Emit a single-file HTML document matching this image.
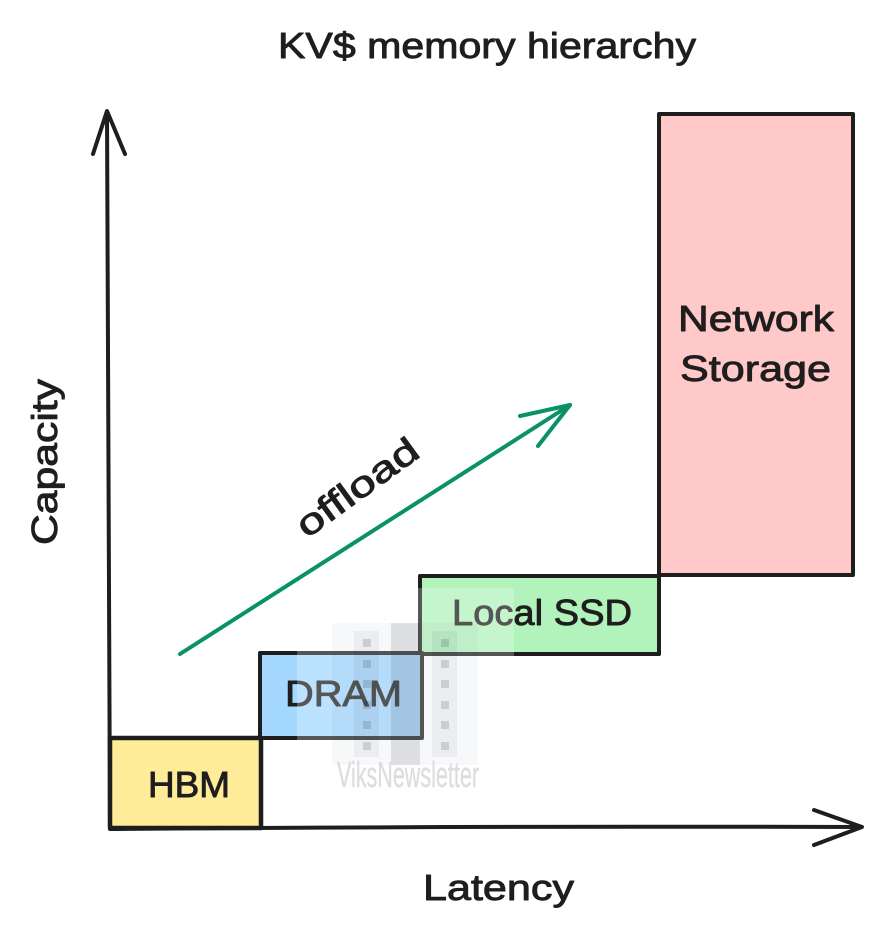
<!DOCTYPE html>
<html>
<head>
<meta charset="utf-8">
<style>
html,body{margin:0;padding:0;background:#fff;width:881px;height:932px;overflow:hidden}
svg{display:block}
text{font-family:"Liberation Sans","DejaVu Sans",sans-serif;fill:#1e1e1e;font-size:36px;stroke:#1e1e1e;stroke-width:.9;stroke-linejoin:round}
.wm{mix-blend-mode:multiply}
</style>
</head>
<body>
<svg width="881" height="932" viewBox="0 0 881 932" xmlns="http://www.w3.org/2000/svg">
<rect width="881" height="932" fill="#fff"/>
<g fill="none" stroke="#1e1e1e" stroke-width="4" stroke-linecap="round" stroke-linejoin="round">
<path d="M110 828 Q108 500 107 112"/>
<path d="M93 154 L107 111 L125 154"/>
<path d="M110 829 Q480 826 861 827"/>
<path d="M814 810 L862 827 L814 845"/>
</g>
<rect x="659" y="114" width="194" height="461" fill="#ffc9c9" stroke="#1e1e1e" stroke-width="4" stroke-linejoin="round"/>
<rect x="420" y="576" width="239" height="78" fill="#b2f2bb" stroke="#1e1e1e" stroke-width="4" stroke-linejoin="round"/>
<rect x="260" y="653" width="162" height="85" fill="#a5d8ff" stroke="#1e1e1e" stroke-width="4" stroke-linejoin="round"/>
<rect x="110" y="738" width="151" height="90" fill="#ffec99" stroke="#1e1e1e" stroke-width="4.5" stroke-linejoin="round"/>
<g fill="none" stroke="#099268" stroke-width="4" stroke-linecap="round" stroke-linejoin="round">
<path d="M180 654 L570 405"/>
<path d="M520 416 L570 405 L538 446"/>
</g>
<text x="278" y="58" textLength="418" lengthAdjust="spacingAndGlyphs" font-size="36">KV$ memory hierarchy</text>
<text x="678" y="331" textLength="156" lengthAdjust="spacingAndGlyphs">Network</text>
<text x="680" y="381" textLength="151" lengthAdjust="spacingAndGlyphs">Storage</text>
<text x="452" y="625" textLength="180" lengthAdjust="spacingAndGlyphs" font-size="34">Local SSD</text>
<text x="285" y="706" textLength="117" lengthAdjust="spacingAndGlyphs" font-size="36">DRAM</text>
<text x="148" y="797" textLength="82" lengthAdjust="spacingAndGlyphs" font-size="36">HBM</text>
<text x="423" y="900" textLength="151" lengthAdjust="spacingAndGlyphs" font-size="36">Latency</text>
<text transform="translate(57,545) rotate(-90)" textLength="166" lengthAdjust="spacingAndGlyphs" font-size="36">Capacity</text>
<text transform="translate(307,539) rotate(-36)" textLength="142" lengthAdjust="spacingAndGlyphs" font-size="36">offload</text>
<!-- wash -->
<rect x="297" y="588" width="217" height="157" fill="#fff" opacity=".25"/>
<g class="wm">
<rect x="332" y="623" width="146" height="142" fill="#f7f8fa"/>
</g>
<g class="wm">
<rect x="391" y="623" width="29" height="142" fill="#e5e6e8"/>
</g>
<g class="wm">
<rect x="354" y="631" width="25" height="126" fill="#f3f4f5"/>
</g>
<g class="wm">
<rect x="432" y="631" width="25" height="126" fill="#f3f4f5"/>
</g>
<g class="wm" fill="#dcdee1">
<rect x="363" y="639" width="8" height="8"/><rect x="363" y="660" width="8" height="8"/><rect x="363" y="680" width="8" height="8"/><rect x="363" y="701" width="8" height="8"/><rect x="363" y="721" width="8" height="8"/><rect x="363" y="742" width="8" height="8"/>
<rect x="441" y="639" width="8" height="8"/><rect x="441" y="660" width="8" height="8"/><rect x="441" y="680" width="8" height="8"/><rect x="441" y="701" width="8" height="8"/><rect x="441" y="721" width="8" height="8"/><rect x="441" y="742" width="8" height="8"/>
</g>
<text x="337" y="787" textLength="142" lengthAdjust="spacingAndGlyphs" font-size="15" style="fill:#dcdddf;stroke:#dcdddf;stroke-width:.4">ViksNewsletter</text>
</svg>
</body>
</html>
